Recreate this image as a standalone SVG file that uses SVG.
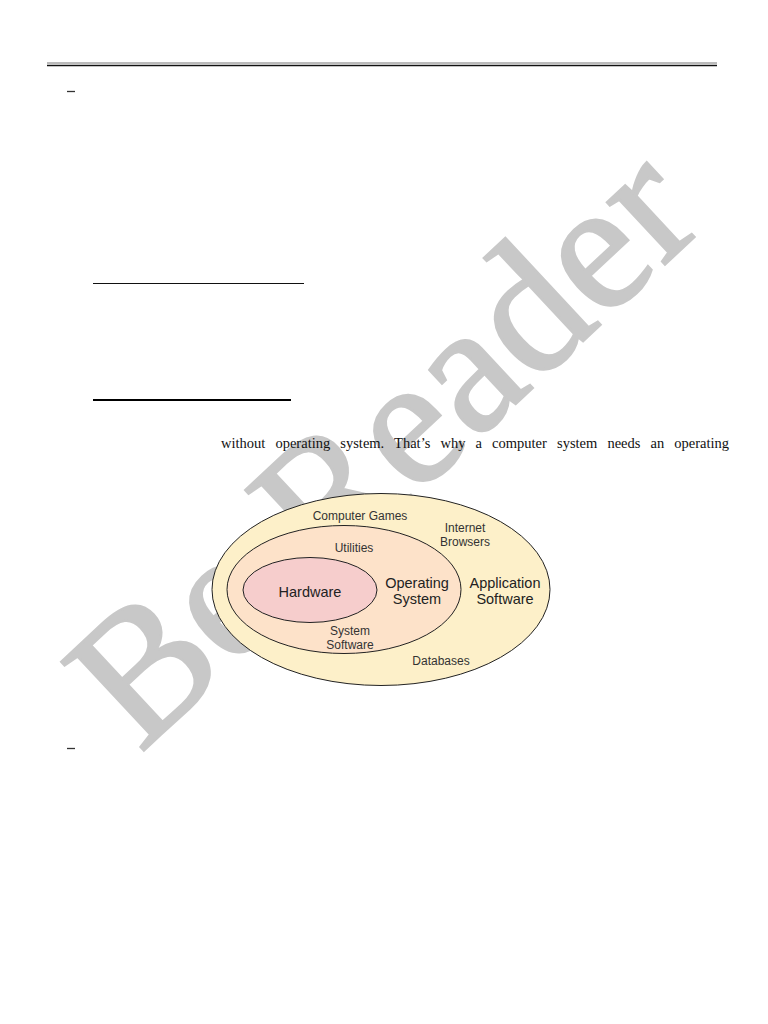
<svg xmlns="http://www.w3.org/2000/svg" width="768" height="1024" viewBox="0 0 768 1024">
<style>
.wm{font-family:"Liberation Serif","Times New Roman",serif;fill:#c8c8c8;stroke:#c8c8c8;stroke-width:2.5px;}
.body{font-family:"Liberation Serif","Times New Roman",serif;font-size:14.5px;fill:#111;word-spacing:6.5px;}
.lbl{font-family:"Liberation Sans",Arial,sans-serif;fill:#333;text-anchor:middle;}
.sm{font-size:12px;}
.lg{font-size:14.5px;fill:#222;}
.ell{stroke:#222;stroke-width:1;}
</style>
<rect width="768" height="1024" fill="#ffffff"/>
<g id="watermark">
<text class="wm" x="0" y="0" font-size="185" transform="translate(140,754) rotate(-43)">Be Reader</text>
</g>
<g id="page">
<line x1="47" y1="63" x2="717" y2="63" stroke="#777" stroke-width="1"/>
<line x1="47" y1="65.5" x2="717" y2="65.5" stroke="#111" stroke-width="1.5"/>
<line x1="67" y1="91.5" x2="75" y2="91.5" stroke="#333" stroke-width="1.3"/>
<line x1="93" y1="283.5" x2="304" y2="283.5" stroke="#111" stroke-width="1.2"/>
<line x1="93" y1="400" x2="291" y2="400" stroke="#000" stroke-width="2"/>
<text class="body" x="221" y="448">without operating system. That’s why a computer system needs an operating</text>
<line x1="67" y1="748.5" x2="75" y2="748.5" stroke="#333" stroke-width="1.3"/>
</g>
<g id="application-software">
<ellipse class="ell" cx="381" cy="589.5" rx="169" ry="96" fill="#fdf0c9"/>
<text class="lbl sm" x="360" y="520">Computer Games</text>
<text class="lbl sm" x="465" y="532">Internet</text>
<text class="lbl sm" x="465" y="546">Browsers</text>
<text class="lbl lg" x="505" y="588">Application</text>
<text class="lbl lg" x="505" y="604">Software</text>
<text class="lbl sm" x="441" y="665">Databases</text>
</g>
<g id="operating-system">
<ellipse class="ell" cx="344" cy="589.5" rx="117" ry="64" fill="#fde2c9"/>
<text class="lbl sm" x="354" y="552">Utilities</text>
<text class="lbl lg" x="417" y="588">Operating</text>
<text class="lbl lg" x="417" y="604">System</text>
<text class="lbl sm" x="350" y="635">System</text>
<text class="lbl sm" x="350" y="649">Software</text>
</g>
<g id="hardware">
<ellipse class="ell" cx="310" cy="590" rx="67" ry="32.5" fill="#f6cdcc"/>
<text class="lbl lg" x="310" y="597">Hardware</text>
</g>
<g id="connectors"/>
</svg>
